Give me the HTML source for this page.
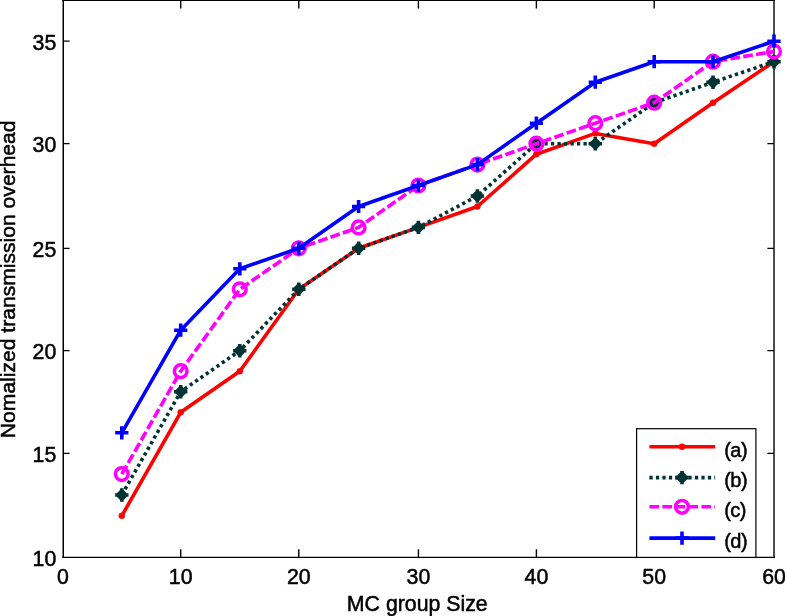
<!DOCTYPE html><html><head><meta charset="utf-8"><title>chart</title>
<style>html,body{margin:0;padding:0;background:#fff;overflow:hidden}svg{display:block}text{font-family:"Liberation Sans",sans-serif;fill:#000;stroke:#000;stroke-width:0.5}</style></head><body>
<svg width="785" height="616" viewBox="0 0 785 616">
<rect width="785" height="616" fill="#fff"/>
<path d="M63.25 0V558.0" stroke="#000" stroke-width="1.5"/>
<path d="M774.0 0V558.0" stroke="#000" stroke-width="1.4"/>
<path d="M62.3 557.4H774.7" stroke="#000" stroke-width="1.2"/>
<path d="M62.3 0.45H774.7" stroke="#000" stroke-width="1.1"/>
<path d="M180.7 557.4v-8.2M180.7 0.3v8.2" stroke="#000" stroke-width="1.4"/>
<path d="M298.8 557.4v-8.2M298.8 0.3v8.2" stroke="#000" stroke-width="1.4"/>
<path d="M418.4 557.4v-8.2M418.4 0.3v8.2" stroke="#000" stroke-width="1.4"/>
<path d="M536.4 557.4v-8.2M536.4 0.3v8.2" stroke="#000" stroke-width="1.4"/>
<path d="M654.2 557.4v-8.2M654.2 0.3v8.2" stroke="#000" stroke-width="1.4"/>
<path d="M63.0 453.3h6.6M774.0 453.3h-6.6" stroke="#000" stroke-width="1.2"/>
<path d="M63.0 350.7h6.6M774.0 350.7h-6.6" stroke="#000" stroke-width="1.2"/>
<path d="M63.0 248.3h6.6M774.0 248.3h-6.6" stroke="#000" stroke-width="1.2"/>
<path d="M63.0 143.7h6.6M774.0 143.7h-6.6" stroke="#000" stroke-width="1.2"/>
<path d="M63.0 41.2h6.6M774.0 41.2h-6.6" stroke="#000" stroke-width="1.2"/>
<text x="63.0" y="584.2" font-size="21.3" text-anchor="middle">0</text>
<text x="180.7" y="584.2" font-size="21.3" text-anchor="middle">10</text>
<text x="298.8" y="584.2" font-size="21.3" text-anchor="middle">20</text>
<text x="418.4" y="584.2" font-size="21.3" text-anchor="middle">30</text>
<text x="536.4" y="584.2" font-size="21.3" text-anchor="middle">40</text>
<text x="654.2" y="584.2" font-size="21.3" text-anchor="middle">50</text>
<text x="774.0" y="584.2" font-size="21.3" text-anchor="middle">60</text>
<text x="56.3" y="566.0" font-size="21.3" text-anchor="end">10</text>
<text x="56.3" y="461.9" font-size="21.3" text-anchor="end">15</text>
<text x="56.3" y="359.3" font-size="21.3" text-anchor="end">20</text>
<text x="56.3" y="256.9" font-size="21.3" text-anchor="end">25</text>
<text x="56.3" y="152.3" font-size="21.3" text-anchor="end">30</text>
<text x="56.3" y="49.8" font-size="21.3" text-anchor="end">35</text>
<text x="417.3" y="611.4" font-size="21.3" text-anchor="middle">MC group Size</text>
<text transform="translate(15.3,279.3) rotate(-90)" font-size="21.1" text-anchor="middle">Nomalized transmission overhead</text>
<polyline points="121.8,515.8 180.7,412.3 239.8,371.2 298.8,289.3 358.6,248.3 418.4,227.4 477.4,206.5 536.4,154.2 595.3,133.4 654.2,143.7 713.0,102.7 774.0,61.7" fill="none" stroke="#ff0000" stroke-width="3.6" stroke-linejoin="round"/>
<circle cx="121.8" cy="515.8" r="3" fill="#ff0000" stroke="#ff0000" stroke-width="0.5"/><circle cx="180.7" cy="412.3" r="3" fill="#ff0000" stroke="#ff0000" stroke-width="0.5"/><circle cx="239.8" cy="371.2" r="3" fill="#ff0000" stroke="#ff0000" stroke-width="0.5"/><circle cx="298.8" cy="289.3" r="3" fill="#ff0000" stroke="#ff0000" stroke-width="0.5"/><circle cx="358.6" cy="248.3" r="3" fill="#ff0000" stroke="#ff0000" stroke-width="0.5"/><circle cx="418.4" cy="227.4" r="3" fill="#ff0000" stroke="#ff0000" stroke-width="0.5"/><circle cx="477.4" cy="206.5" r="3" fill="#ff0000" stroke="#ff0000" stroke-width="0.5"/><circle cx="536.4" cy="154.2" r="3" fill="#ff0000" stroke="#ff0000" stroke-width="0.5"/><circle cx="595.3" cy="133.4" r="3" fill="#ff0000" stroke="#ff0000" stroke-width="0.5"/><circle cx="654.2" cy="143.7" r="3" fill="#ff0000" stroke="#ff0000" stroke-width="0.5"/><circle cx="713.0" cy="102.7" r="3" fill="#ff0000" stroke="#ff0000" stroke-width="0.5"/><circle cx="774.0" cy="61.7" r="3" fill="#ff0000" stroke="#ff0000" stroke-width="0.5"/>
<polyline points="121.8,494.9 180.7,391.7 239.8,350.7 298.8,289.3 358.6,248.3 418.4,227.4 477.4,196.0 536.4,143.7 595.3,143.7 654.2,102.7 713.0,82.2 774.0,61.7" fill="none" stroke="#003333" stroke-width="3.6" stroke-dasharray="3.25 3.25"/>
<path d="M115.15 493.14L116.85 493.14L120.05 489.94L120.05 488.24L123.65 488.24L123.65 489.94L126.85 493.14L128.55 493.14L128.55 496.74L126.85 496.74L123.65 499.94L123.65 501.64L120.05 501.64L120.05 499.94L116.85 496.74L115.15 496.74Z" fill="#003333"/><path d="M174.00 389.94L175.70 389.94L178.90 386.74L178.90 385.04L182.50 385.04L182.50 386.74L185.70 389.94L187.40 389.94L187.40 393.54L185.70 393.54L182.50 396.74L182.50 398.44L178.90 398.44L178.90 396.74L175.70 393.54L174.00 393.54Z" fill="#003333"/><path d="M233.05 348.90L234.75 348.90L237.95 345.70L237.95 344.00L241.55 344.00L241.55 345.70L244.75 348.90L246.45 348.90L246.45 352.50L244.75 352.50L241.55 355.70L241.55 357.40L237.95 357.40L237.95 355.70L234.75 352.50L233.05 352.50Z" fill="#003333"/><path d="M292.10 287.46L293.80 287.46L297.00 284.26L297.00 282.56L300.60 282.56L300.60 284.26L303.80 287.46L305.50 287.46L305.50 291.06L303.80 291.06L300.60 294.26L300.60 295.96L297.00 295.96L297.00 294.26L293.80 291.06L292.10 291.06Z" fill="#003333"/><path d="M351.90 246.50L353.60 246.50L356.80 243.30L356.80 241.60L360.40 241.60L360.40 243.30L363.60 246.50L365.30 246.50L365.30 250.10L363.60 250.10L360.40 253.30L360.40 255.00L356.80 255.00L356.80 253.30L353.60 250.10L351.90 250.10Z" fill="#003333"/><path d="M411.70 225.58L413.40 225.58L416.60 222.38L416.60 220.68L420.20 220.68L420.20 222.38L423.40 225.58L425.10 225.58L425.10 229.18L423.40 229.18L420.20 232.38L420.20 234.08L416.60 234.08L416.60 232.38L413.40 229.18L411.70 229.18Z" fill="#003333"/><path d="M470.70 194.20L472.40 194.20L475.60 191.00L475.60 189.30L479.20 189.30L479.20 191.00L482.40 194.20L484.10 194.20L484.10 197.80L482.40 197.80L479.20 201.00L479.20 202.70L475.60 202.70L475.60 201.00L472.40 197.80L470.70 197.80Z" fill="#003333"/><path d="M529.70 141.90L531.40 141.90L534.60 138.70L534.60 137.00L538.20 137.00L538.20 138.70L541.40 141.90L543.10 141.90L543.10 145.50L541.40 145.50L538.20 148.70L538.20 150.40L534.60 150.40L534.60 148.70L531.40 145.50L529.70 145.50Z" fill="#003333"/><path d="M588.60 141.90L590.30 141.90L593.50 138.70L593.50 137.00L597.10 137.00L597.10 138.70L600.30 141.90L602.00 141.90L602.00 145.50L600.30 145.50L597.10 148.70L597.10 150.40L593.50 150.40L593.50 148.70L590.30 145.50L588.60 145.50Z" fill="#003333"/><path d="M647.50 100.90L649.20 100.90L652.40 97.70L652.40 96.00L656.00 96.00L656.00 97.70L659.20 100.90L660.90 100.90L660.90 104.50L659.20 104.50L656.00 107.70L656.00 109.40L652.40 109.40L652.40 107.70L649.20 104.50L647.50 104.50Z" fill="#003333"/><path d="M706.30 80.40L708.00 80.40L711.20 77.20L711.20 75.50L714.80 75.50L714.80 77.20L718.00 80.40L719.70 80.40L719.70 84.00L718.00 84.00L714.80 87.20L714.80 88.90L711.20 88.90L711.20 87.20L708.00 84.00L706.30 84.00Z" fill="#003333"/><path d="M767.30 59.90L769.00 59.90L772.20 56.70L772.20 55.00L775.80 55.00L775.80 56.70L779.00 59.90L780.70 59.90L780.70 63.50L779.00 63.50L775.80 66.70L775.80 68.40L772.20 68.40L772.20 66.70L769.00 63.50L767.30 63.50Z" fill="#003333"/>
<polyline points="121.8,474.1 180.7,371.2 239.8,289.3 298.8,248.3 358.6,227.4 418.4,185.5 477.4,164.6 536.4,143.7 595.3,123.2 654.2,102.7 713.0,61.7 774.0,51.5" fill="none" stroke="#ff00ff" stroke-width="3.6" stroke-dasharray="9.75 3.25"/>
<circle cx="121.8" cy="474.1" r="6.35" fill="none" stroke="#ff00ff" stroke-width="3.5"/><circle cx="180.7" cy="371.2" r="6.35" fill="none" stroke="#ff00ff" stroke-width="3.5"/><circle cx="239.8" cy="289.3" r="6.35" fill="none" stroke="#ff00ff" stroke-width="3.5"/><circle cx="298.8" cy="248.3" r="6.35" fill="none" stroke="#ff00ff" stroke-width="3.5"/><circle cx="358.6" cy="227.4" r="6.35" fill="none" stroke="#ff00ff" stroke-width="3.5"/><circle cx="418.4" cy="185.5" r="6.35" fill="none" stroke="#ff00ff" stroke-width="3.5"/><circle cx="477.4" cy="164.6" r="6.35" fill="none" stroke="#ff00ff" stroke-width="3.5"/><circle cx="536.4" cy="143.7" r="6.35" fill="none" stroke="#ff00ff" stroke-width="3.5"/><circle cx="595.3" cy="123.2" r="6.35" fill="none" stroke="#ff00ff" stroke-width="3.5"/><circle cx="654.2" cy="102.7" r="6.35" fill="none" stroke="#ff00ff" stroke-width="3.5"/><circle cx="713.0" cy="61.7" r="6.35" fill="none" stroke="#ff00ff" stroke-width="3.5"/><circle cx="774.0" cy="51.5" r="6.35" fill="none" stroke="#ff00ff" stroke-width="3.5"/>
<polyline points="121.8,432.8 180.7,330.2 239.8,268.8 298.8,248.3 358.6,206.5 418.4,185.5 477.4,164.6 536.4,123.2 595.3,82.2 654.2,61.7 713.0,61.7 774.0,41.2" fill="none" stroke="#0000ff" stroke-width="3.6" stroke-linejoin="round"/>
<path d="M115.2 432.8h13.2M121.8 426.2v13.2" stroke="#0000ff" stroke-width="3.6" fill="none"/><path d="M174.1 330.2h13.2M180.7 323.6v13.2" stroke="#0000ff" stroke-width="3.6" fill="none"/><path d="M233.2 268.8h13.2M239.8 262.2v13.2" stroke="#0000ff" stroke-width="3.6" fill="none"/><path d="M292.2 248.3h13.2M298.8 241.7v13.2" stroke="#0000ff" stroke-width="3.6" fill="none"/><path d="M352.0 206.5h13.2M358.6 199.9v13.2" stroke="#0000ff" stroke-width="3.6" fill="none"/><path d="M411.8 185.5h13.2M418.4 178.9v13.2" stroke="#0000ff" stroke-width="3.6" fill="none"/><path d="M470.8 164.6h13.2M477.4 158.0v13.2" stroke="#0000ff" stroke-width="3.6" fill="none"/><path d="M529.8 123.2h13.2M536.4 116.6v13.2" stroke="#0000ff" stroke-width="3.6" fill="none"/><path d="M588.7 82.2h13.2M595.3 75.6v13.2" stroke="#0000ff" stroke-width="3.6" fill="none"/><path d="M647.6 61.7h13.2M654.2 55.1v13.2" stroke="#0000ff" stroke-width="3.6" fill="none"/><path d="M706.4 61.7h13.2M713.0 55.1v13.2" stroke="#0000ff" stroke-width="3.6" fill="none"/><path d="M767.4 41.2h13.2M774.0 34.6v13.2" stroke="#0000ff" stroke-width="3.6" fill="none"/>
<rect x="636.6" y="428.7" width="119.29999999999995" height="128.7" fill="#fff" stroke="#000" stroke-width="1.2"/>
<path d="M649.4 446.7H715.2" stroke="#ff0000" stroke-width="3.6"/><circle cx="682.0" cy="446.7" r="3.2" fill="#ff0000"/>
<path d="M649.4 477.6H715.2" stroke="#003333" stroke-width="3.6" stroke-dasharray="3.25 3.25"/><path d="M675.30 475.80L677.00 475.80L680.20 472.60L680.20 470.90L683.80 470.90L683.80 472.60L687.00 475.80L688.70 475.80L688.70 479.40L687.00 479.40L683.80 482.60L683.80 484.30L680.20 484.30L680.20 482.60L677.00 479.40L675.30 479.40Z" fill="#003333"/>
<path d="M649.4 506.8H715.2" stroke="#ff00ff" stroke-width="3.6" stroke-dasharray="9.75 3.25"/><circle cx="682.0" cy="506.8" r="6.35" fill="none" stroke="#ff00ff" stroke-width="3.5"/>
<path d="M649.4 538.1H715.2" stroke="#0000ff" stroke-width="3.6"/><path d="M675.4 538.1h13.2M682.0 531.5v13.2" stroke="#0000ff" stroke-width="3.6" fill="none"/>
<text x="724.2" y="456.5" font-size="20" letter-spacing="-0.5">(a)</text>
<text x="724.2" y="487.4" font-size="20" letter-spacing="-0.5">(b)</text>
<text x="724.2" y="516.6" font-size="20" letter-spacing="-0.5">(c)</text>
<text x="724.2" y="547.9" font-size="20" letter-spacing="-0.5">(d)</text>
</svg></body></html>
